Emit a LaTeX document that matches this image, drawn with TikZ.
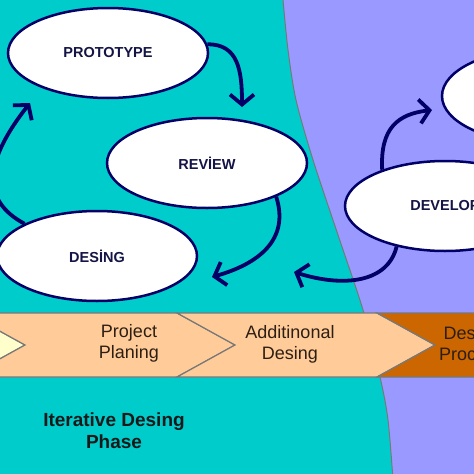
\documentclass[tikz,border=0pt]{standalone}
\usepackage{fontspec}
\setmainfont{Liberation Sans}
\usetikzlibrary{shapes.geometric,arrows.meta}
\definecolor{cyanbg}{RGB}{0,204,204}
\definecolor{purplebg}{RGB}{153,153,255}
\definecolor{navy}{RGB}{0,0,102}
\definecolor{navytext}{RGB}{20,20,70}
\definecolor{peach}{RGB}{255,204,153}
\definecolor{paleyellow}{RGB}{255,255,204}
\definecolor{burnt}{RGB}{204,102,0}
\definecolor{bandline}{RGB}{120,120,120}
\definecolor{bandtext}{RGB}{45,30,20}
\begin{document}
\begin{tikzpicture}[x=1pt,y=-1pt,
  ell/.style={ellipse,draw=navy,line width=2.5pt,fill=white,minimum width=200pt,minimum height=90pt,inner sep=0pt,
    font=\bfseries\fontsize{14.5}{17}\selectfont,text=navytext},
  arr/.style={draw=navy,line width=3.8pt,-{Straight Barb[length=10pt,width=24pt]}},
  chev/.style={draw=bandline,line width=1.2pt,line join=miter},
  bandlabel/.style={align=center,font=\fontsize{18}{21}\selectfont,text=bandtext,inner sep=0pt}]
\useasboundingbox (0,0) rectangle (474,474);
\clip (0,0) rectangle (474,474);
% background
\fill[purplebg] (0,0) rectangle (474,474);
\fill[cyanbg] (0,0) -- plot[smooth] coordinates {(283,0) (288,50) (296,100) (313,160) (338,235) (363,310) (380,377) (388,420) (393,480)} -- (0,480) -- cycle;
\draw[bandline,line width=1pt] plot[smooth] coordinates {(283,0) (288,50) (296,100) (313,160) (338,235) (363,310) (380,377) (388,420) (393,480)};
% band of chevrons
\filldraw[chev,fill=paleyellow] (-60,313) -- (-33,313) -- (25,345) -- (-33,377) -- (-60,377) -- cycle;
\filldraw[chev,fill=peach] (-33,313) -- (177,313) -- (235,345) -- (177,377) -- (-33,377) -- (25,345) -- cycle;
\filldraw[chev,fill=peach] (177,313) -- (377,313) -- (435,345) -- (377,377) -- (177,377) -- (235,345) -- cycle;
\filldraw[chev,fill=burnt] (377,313) -- (520,313) -- (520,377) -- (377,377) -- (435,345) -- cycle;
\node[bandlabel] (pp) at (129,343) {Project\\Planing};
\node[bandlabel] (ad) at (290,344) {Additinonal\\Desing};
\node[bandlabel,anchor=west] (dp) at (439,344) {Desing\\Process};
\node[align=center,font=\bfseries\fontsize{19}{22}\selectfont,text=black!90,inner sep=0pt] (phase) at (114,431) {Iterative Desing\\Phase};
% ellipses
\node[ell] (proto) at (108,53) {PROTOTYPE};
\node[ell] (review) at (207,163) {REVİEW};
\node[ell] (desing) at (97,256) {DESİNG};
\node[ell] (dev) at (445,206) {DEVELOP};
\node[ell,minimum height=94pt] (tr) at (542,96) {};
% free ends
\coordinate (t1) at (242,107);
\coordinate (t2) at (30,103);
\coordinate (t3) at (212,277);
\coordinate (t4) at (294,272);
\coordinate (t5) at (432,110);
% arrows
\draw[arr] (proto.5) .. controls (238,44) and (242,70) .. (t1);
\draw[arr] (desing.156) .. controls (-20,200) and (-15,160) .. (t2);
\draw[arr] (review.-26) .. controls (290,240) and (258,264) .. (t3);
\draw[arr] (dev.-140) .. controls (388,282) and (345,288) .. (t4);
\draw[arr] (dev.150) .. controls (380,128) and (398,114) .. (t5);
\end{tikzpicture}
\end{document}
